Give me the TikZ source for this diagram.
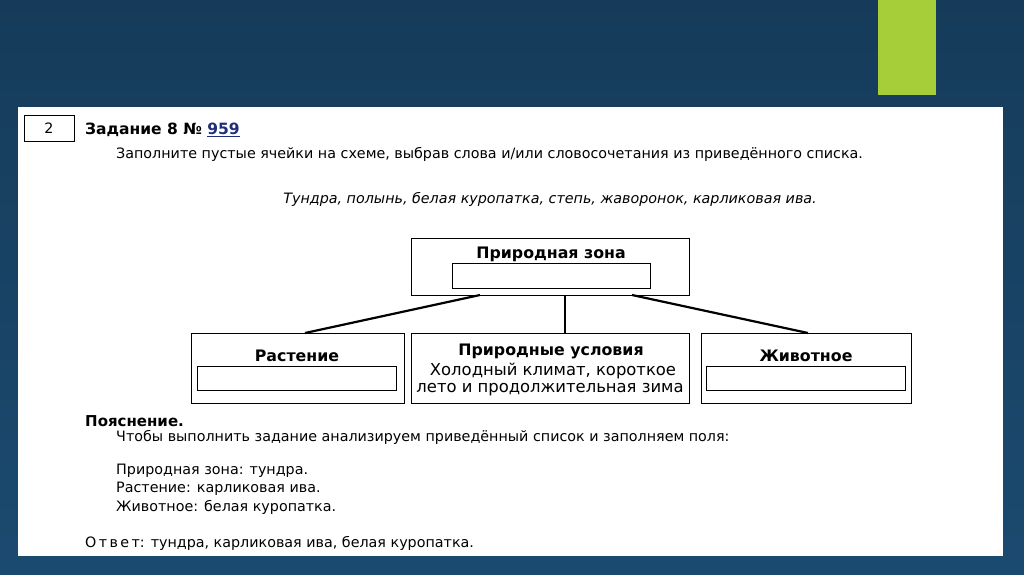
\documentclass[tikz,border=0pt]{standalone}
\usepackage{fontspec}
\setmainfont{DejaVu Sans}
\usetikzlibrary{positioning}
\definecolor{slidebg}{HTML}{1B4A70}
\definecolor{slidegreen}{HTML}{A6CE39}
\definecolor{linkblue}{HTML}{1F2F7A}
\begin{document}
\begin{tikzpicture}[x=1pt,y=-1pt,
		txt/.style={anchor=west,inner sep=0pt,font=\fontsize{14.3}{16}\selectfont},
		head/.style={inner sep=0pt,font=\fontsize{15.8}{18}\selectfont\bfseries},
		frame/.style={draw=black,thick},
		slot/.style={draw=black,thin},
		link/.style={line width=2.2pt}]

	% SLIDE
	\shade[top color=slidebg!80!black,bottom color=slidebg] (0,0) rectangle (1024,574);
	\fill[slidegreen] (878,0) rectangle (936,95);
	\fill[white] (18,107) rectangle (1003,556);
	\useasboundingbox (0,0) rectangle (1024,574);

	% TASK
	\node (num) [draw,minimum width=50,minimum height=26,font=\fontsize{14.3}{16}\selectfont] at (49,128) {2};
	\node (task) [txt,font=\fontsize{15.5}{18}\selectfont\bfseries] at (85,130) {Задание 8 № \textcolor{linkblue}{\underline{959}}};
	\node (ask) [txt] at (116,154) {Заполните пустые ячейки на схеме, выбрав слова и/или словосочетания из приведённого списка.};
	\node (list) [txt,anchor=center,font=\fontsize{14.3}{16}\selectfont\itshape] at (550,199) {Тундра, полынь, белая куропатка, степь, жаворонок, карликовая ива.};

	% SCHEME
	\draw[frame] (411,238) rectangle (689,295);
	\node (zone) [head] at (551,254) {Природная зона};
	\draw[slot] (452,263) rectangle (650,288);

	\draw[frame] (191,333) rectangle (404,403);
	\node (plant) [head] at (297,356) {Растение};
	\draw[slot] (197,366) rectangle (396,390);

	\draw[frame] (411,333) rectangle (689,403);
	\node (cond) [head] at (551,351) {Природные условия};
	\node (cond1) [inner sep=0pt,font=\fontsize{16.4}{19}\selectfont] at (553,371) {Холодный климат, короткое};
	\node (cond2) [inner sep=0pt,font=\fontsize{16.4}{19}\selectfont] at (550,390) {лето и продолжительная зима};

	\draw[frame] (701,333) rectangle (911,403);
	\node (animal) [head] at (806,356) {Животное};
	\draw[slot] (706,366) rectangle (905,390);

	\coordinate (z1) at (480,295);
	\coordinate (z2) at (565,295);
	\coordinate (z3) at (632,295);
	\coordinate (p1) at (305,333);
	\coordinate (p2) at (565,333);
	\coordinate (p3) at (808,333);
	\draw[link] (z1) -- (p1);
	\draw[link] (z2) -- (p2);
	\draw[link] (z3) -- (p3);

	% EXPLANATION
	\node (expl) [txt,font=\fontsize{15}{18}\selectfont\bfseries] at (85,421) {Пояснение.};
	\node (e1) [txt] at (116,437) {Чтобы выполнить задание анализируем приведённый список и заполняем поля:};
	\node (e2) [txt] at (116,471) {Природная зона: тундра.};
	\node (e3) [txt] at (116,489) {Растение: карликовая ива.};
	\node (e4) [txt] at (116,507) {Животное: белая куропатка.};
	\node (ans) [txt] at (85,543) {О\,т\,в\,е\,т: тундра, карликовая ива, белая куропатка.};
\end{tikzpicture}
\end{document}
